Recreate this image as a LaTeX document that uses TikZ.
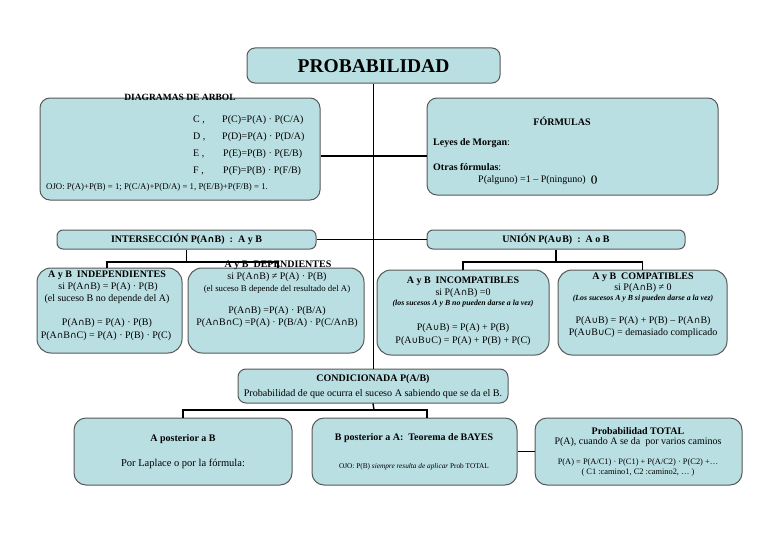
\documentclass[tikz,border=0pt]{standalone}
\usepackage{fontspec}
\setmainfont{Liberation Serif}
\newfontfamily\symfont{DejaVu Sans}
\newcommand\Ca{{\symfont\fontsize{0.9em}{1em}\selectfont ∩}}
\newcommand\Cu{{\symfont\fontsize{0.9em}{1em}\selectfont ∪}}
\definecolor{boxfill}{RGB}{186,223,227}
\definecolor{boxedge}{RGB}{88,88,88}
\begin{document}
\begin{tikzpicture}[x=1pt,y=-1pt,
  box/.style={draw=boxedge, fill=boxfill, rounded corners=10pt, line width=1pt, inner sep=0pt},
  conn/.style={line width=1.4pt, black},
  tx/.style={inner sep=0pt, font=\fontsize{10}{12}\selectfont},
  txb/.style={inner sep=0pt, font=\fontsize{10}{12}\selectfont\bfseries},
  txs/.style={inner sep=0pt, font=\fontsize{8.8}{10}\selectfont},
  txt/.style={inner sep=0pt, font=\fontsize{7.8}{9}\selectfont\bfseries\itshape}]
\useasboundingbox (0,0) rectangle (768,543);
\fill[white] (0,0) rectangle (768,543);
% boxes
\node[box, minimum width=253pt, minimum height=35pt, rounded corners=8pt] (title) at (373.5,65.5) {};
\node[box, minimum width=280pt, minimum height=102pt] (arbol) at (180,149) {};
\node[box, minimum width=291pt, minimum height=97pt] (form) at (572.5,146.5) {};
\node[box, minimum width=259pt, minimum height=19pt, rounded corners=6pt] (inter) at (186.5,239.5) {};
\node[box, minimum width=258pt, minimum height=19pt, rounded corners=6pt] (union) at (556,239.5) {};
\node[box, minimum width=145pt, minimum height=85pt, rounded corners=14pt] (indep) at (109.5,310.5) {};
\node[box, minimum width=176pt, minimum height=85pt, rounded corners=14pt] (dep) at (276,310.5) {};
\node[box, minimum width=172pt, minimum height=85pt, rounded corners=14pt] (incomp) at (463,312.5) {};
\node[box, minimum width=169pt, minimum height=85pt, rounded corners=14pt] (comp) at (642.5,312.5) {};
\node[box, minimum width=270pt, minimum height=34pt, rounded corners=8pt] (cond) at (373,386) {};
\node[box, minimum width=218pt, minimum height=67pt, rounded corners=12pt] (apost) at (183,451.5) {};
\node[box, minimum width=205pt, minimum height=67pt, rounded corners=12pt] (bpost) at (414.5,451.5) {};
\node[box, minimum width=207pt, minimum height=67pt, rounded corners=12pt] (total) at (638.5,451.5) {};
% connector junctions
\coordinate (h1) at (0,156);
\coordinate (j1) at (186.5,262);
\coordinate (j2) at (556,262);
\coordinate (j3) at (374,410);
\coordinate (d4) at (427,418);
% connectors
\draw[conn] (title.south) -- (title.south |- cond.north);
\draw[conn] (arbol.east |- h1) -- (form.west |- h1);
\draw[conn] (inter.east) -- (union.west);
\draw[conn] (inter.south) -- (j1);
\draw[conn] ([xshift=-2.5pt]indep.north) |- (j1) -| ([xshift=2pt]dep.north);
\draw[conn] (union.south) -- (j2);
\draw[conn] (incomp.north) |- (j2) -| (comp.north);
\draw[conn] (cond.south) -- (j3);
\draw[conn] (apost.north) |- (j3) -| (d4);
\draw[conn] (bpost.east) -- (total.west);
% title
\node[inner sep=0pt, font=\fontsize{19.5}{22}\selectfont\bfseries] (ttitle) at (373.5,66) {PROBABILIDAD};
% arbol
\node[inner sep=0pt, anchor=base, font=\fontsize{9.5}{11}\selectfont\bfseries] (tarb) at (180,100) {DIAGRAMAS DE ARBOL};
\node[tx, anchor=west] (lc) at (193,120) {C ,};
\node[tx, anchor=west] (fc) at (222,120) {P(C)=P(A) · P(C/A)};
\node[tx, anchor=west] (ld) at (193,137) {D ,};
\node[tx, anchor=west] (fd) at (222,137) {P(D)=P(A) · P(D/A)};
\node[tx, anchor=west] (le) at (193,154) {E ,};
\node[tx, anchor=west] (fe) at (223,154) {P(E)=P(B) · P(E/B)};
\node[tx, anchor=west] (lf) at (193,171) {F ,};
\node[tx, anchor=west] (ff) at (223,171) {P(F)=P(B) · P(F/B)};
\node[txs, anchor=west] (ojo1) at (46,187) {OJO: P(A)+P(B) = 1; P(C/A)+P(D/A) = 1, P(E/B)+P(F/B) = 1.};
% formulas
\node[txb] (tform) at (562,121) {FÓRMULAS};
\node[txb, anchor=west] (tley) at (433,143) {Leyes de Morgan\textmd{:}};
\node[txb, anchor=west] (totr) at (433,167) {Otras fórmulas\textmd{:}};
\node[tx, anchor=west] (talg) at (478,180) {P(alguno) =1 – P(ninguno)\enspace \textbf{()}};
% intersection / union
\node[txb] (tinter) at (186.5,239.5) {INTERSECCIÓN P(A\Ca B)\enspace:\enspace A y B};
\node[txb] (tunion) at (556,239.5) {UNIÓN P(A\Cu B)\enspace:\enspace A o B};
% independientes
\node[txb] (ti1) at (107,275) {A y B\enspace INDEPENDIENTES};
\node[tx] (ti2) at (108,287) {si P(A\Ca B) = P(A) · P(B)};
\node[tx] (ti3) at (107,299) {(el suceso B no depende del A)};
\node[tx] (ti4) at (107,323) {P(A\Ca B) = P(A) · P(B)};
\node[tx] (ti5) at (106,336) {P(A\Ca B\Ca C) = P(A) · P(B) · P(C)};
% dependientes
\node[tx] (td2) at (277,277) {si P(A\Ca B) ≠ P(A) · P(B)};
\node[txs] (td3) at (277,289) {(el suceso B depende del resultado del A)};
\node[tx] (td4) at (277,311) {P(A\Ca B) =P(A) · P(B/A)};
\node[tx] (td5) at (277,323) {P(A\Ca B\Ca C) =P(A) · P(B/A) · P(C/A\Ca B)};
% incompatibles
\node[txb] (tn1) at (463,281) {A y B\enspace INCOMPATIBLES};
\node[tx] (tn2) at (463,293) {si P(A\Ca B) =0};
\node[txt] (tn3) at (463,304) {(los sucesos A y B no pueden darse a la vez)};
\node[tx] (tn4) at (463,328) {P(A\Cu B) = P(A) + P(B)};
\node[tx] (tn5) at (463,341) {P(A\Cu B\Cu C) = P(A) + P(B) + P(C)};
% compatibles
\node[txb] (tc1) at (643,277) {A y B\enspace COMPATIBLES};
\node[tx] (tc2) at (643,288) {si P(A\Ca B) ≠ 0};
\node[txt] (tc3) at (643,299) {(Los sucesos A y B si pueden darse a la vez)};
\node[tx] (tc4) at (643,321) {P(A\Cu B) = P(A) + P(B) – P(A\Ca B)};
\node[tx] (tc5) at (643,333) {P(A\Cu B\Cu C) = demasiado complicado};
% condicionada
\node[txb] (tcond1) at (373,379) {CONDICIONADA P(A/B)};
\node[inner sep=0pt, font=\fontsize{10.1}{12}\selectfont] (tcond2) at (373,394) {Probabilidad de que ocurra el suceso A sabiendo que se da el B.};
% posterior
\node[txb] (tap1) at (183,439) {A posterior a B};
\node[inner sep=0pt, font=\fontsize{10.5}{12}\selectfont] (tap2) at (183,464) {Por Laplace o por la fórmula:};
\node[txb] (tbp1) at (414,438) {B posterior a A:\enspace Teorema de BAYES};
\node[inner sep=0pt, font=\fontsize{7.3}{9}\selectfont] (tbp2) at (414,467) {OJO: P(B) \textit{siempre resulta de aplicar} Prob TOTAL};
% total
\node[txb] (tt1) at (638,431) {Probabilidad TOTAL};
\node[tx] (tt2) at (638,442) {P(A), cuando A se da\enspace por varios caminos};
\node[inner sep=0pt, font=\fontsize{8.4}{10}\selectfont] (tt3) at (638,462) {P(A) = P(A/C1) · P(C1) + P(A/C2) · P(C2) +…};
\node[inner sep=0pt, font=\fontsize{8.4}{10}\selectfont] (tt4) at (638,472) {( C1 :camino1, C2 :camino2, … )};
% dependientes title over the top border
\node[txb] (td1) at (278,265) {A y B\enspace DEPENDIENTES};
\end{tikzpicture}
\end{document}
